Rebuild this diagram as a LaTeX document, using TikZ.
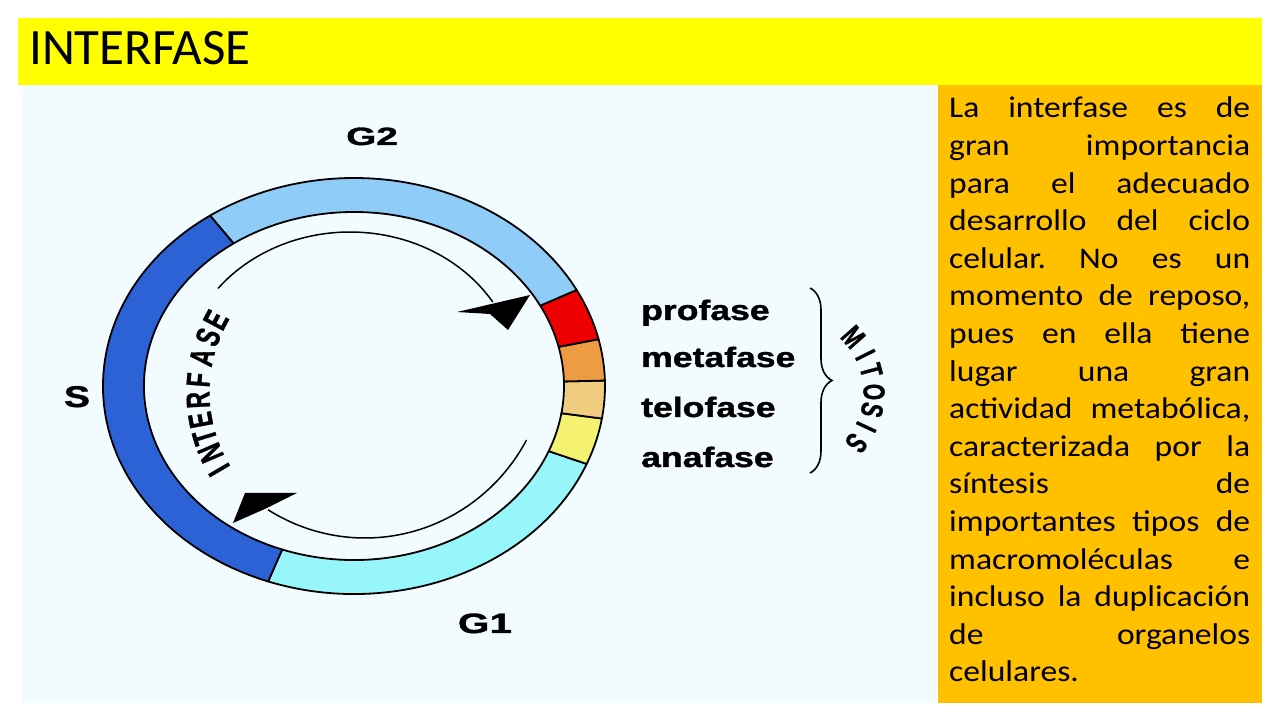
\documentclass[tikz,border=0pt]{standalone}
\usepackage{fontspec}
\setmainfont{Carlito}
\newfontfamily\labelfont{Liberation Sans Bold}[FakeBold=1.2]
\newfontfamily\bodyfont{Carlito}[FakeStretch=1.12]
\usetikzlibrary{decorations.pathreplacing, calc}

\definecolor{titlebar}{RGB}{255,255,0}
\definecolor{panelbg}{RGB}{242,252,255}
\definecolor{textbg}{RGB}{255,192,0}
\definecolor{scol}{RGB}{44,98,214}
\definecolor{gtwocol}{RGB}{143,204,248}
\definecolor{gonecol}{RGB}{150,246,250}
\definecolor{procol}{RGB}{238,0,0}
\definecolor{metacol}{RGB}{238,156,68}
\definecolor{telocol}{RGB}{240,204,128}
\definecolor{anacol}{RGB}{244,242,112}

% one justified line of the side text
\newcommand\jl[1]{\hbox to 301pt{\frenchspacing\spaceskip=.226em plus 1fil\relax #1}}
% one coloured piece of the cycle ring: start angle, end angle, colour
\newcommand\ringseg[3]{%
  \filldraw[ring, fill=#3] (#1:251 and 208) arc[start angle=#1, end angle=#2, x radius=251, y radius=208]
    -- (#2:210 and 174) arc[start angle=#2, end angle=#1, x radius=210, y radius=174] -- cycle;}

\begin{document}
\begin{tikzpicture}[
        x=1pt, y=1pt,
        ring/.style={draw=black, line width=1.8pt, line join=round},
        lbl/.style={font=\labelfont\fontsize{#1}{#1}\selectfont, inner sep=0, anchor=base},
        fase/.style={font=\labelfont\fontsize{28}{28}\selectfont, inner sep=0, anchor=base west},
        arcletter/.style={font=\labelfont\fontsize{#1}{#1}\selectfont, inner sep=0},
        bodyline/.style={font=\bodyfont\fontsize{30}{36}\selectfont, inner sep=0, anchor=base west},
        cyclearrow/.style={line width=1.5pt}
    ]
    \useasboundingbox (0,0) rectangle (1280,720);
    \fill[white] (0,0) rectangle (1280,720);

    % title band and panels
    \fill[titlebar] (18,635) rectangle (1262,702);
    \node (titulo) [anchor=base west, inner sep=0, font=\fontsize{51}{51}\selectfont] at (29,655) {INTERFASE};
    \fill[panelbg] (21,17) rectangle (937,635);
    \fill[textbg] (938,17) rectangle (1262,635);

    % cell cycle ring
    \begin{scope}[shift={(354,334)}]
        \ringseg{-110}{-22}{gonecol}
        \ringseg{-22}{-9}{anacol}
        \ringseg{-9}{1.5}{telocol}
        \ringseg{1.5}{13}{metacol}
        \ringseg{13}{27.5}{procol}
        \ringseg{27.5}{125}{gtwocol}
        \ringseg{125}{250}{scol}
    \end{scope}

    % arrows inside the ring
    \draw[cyclearrow] (350,340) ++(141.8:168 and 148) arc[start angle=141.8, end angle=31.8, x radius=168, y radius=148];
    \fill (457,408) -- (530,425) -- (508,390) -- (490,406) -- cycle;
    \draw[cyclearrow] (365,370) ++(-28.6:184 and 188) arc[start angle=-28.6, end angle=-121.8, x radius=184, y radius=188];
    \fill (233,197) -- (245,227) -- (297,227) -- (267,212) -- cycle;

    % phase labels
    \node (g2) [lbl=25] at (372,575) {\scalebox{1.55}[1]{G2}};
    \node (g1) [lbl=28] at (485,87) {\scalebox{1.45}[1]{G1}};
    \node (s) [lbl=30] at (77,313) {\scalebox{1.3}[1]{S}};

    \foreach \l/\a [count=\i] in {I/210.4, N/203.3, T/197, E/190.5, R/183, F/175.5, A/166.9, S/159.1, E/152.1}
        \node (inter\i) [arcletter=23, rotate=\a-90] at ($(352,328)+(\a:154)$) {\scalebox{1}[1.45]{\l}};

    % mitosis
    \node (profase) [fase] at (641,400) {\scalebox{1.27}[1]{profase}};
    \node (metafase) [fase] at (641,353) {\scalebox{1.27}[1]{metafase}};
    \node (telofase) [fase] at (641,303) {\scalebox{1.27}[1]{telofase}};
    \node (anafase) [fase] at (641,253) {\scalebox{1.27}[1]{anafase}};
    \draw[line width=1.6pt, decorate, decoration={brace, amplitude=22pt}] (810,432) -- (810,247);
    \foreach \l/\a [count=\i] in {M/41.5, I/26.5, T/15, O/0, S/-12.5, I/-25, S/-38}
        \node (mit\i) [arcletter=21, rotate=\a-90] at ($(791,328)+(\a:83)$) {\scalebox{1}[1.45]{\l}};

    % side text
    \foreach \txt [count=\i] in {{La interfase es de}, {gran importancia}, {para el adecuado},
            {desarrollo del ciclo}, {celular. No es un}, {momento de reposo,}, {pues en ella tiene},
            {lugar una gran}, {actividad metabólica,}, {caracterizada por la}, {síntesis de},
            {importantes tipos de}, {macromoléculas e}, {incluso la duplicación}, {de organelos}, {celulares.}}
        \node (linea\i) [bodyline] at (949,{602-37.6*(\i-1)}) {\jl{\txt}};

\end{tikzpicture}
\end{document}
